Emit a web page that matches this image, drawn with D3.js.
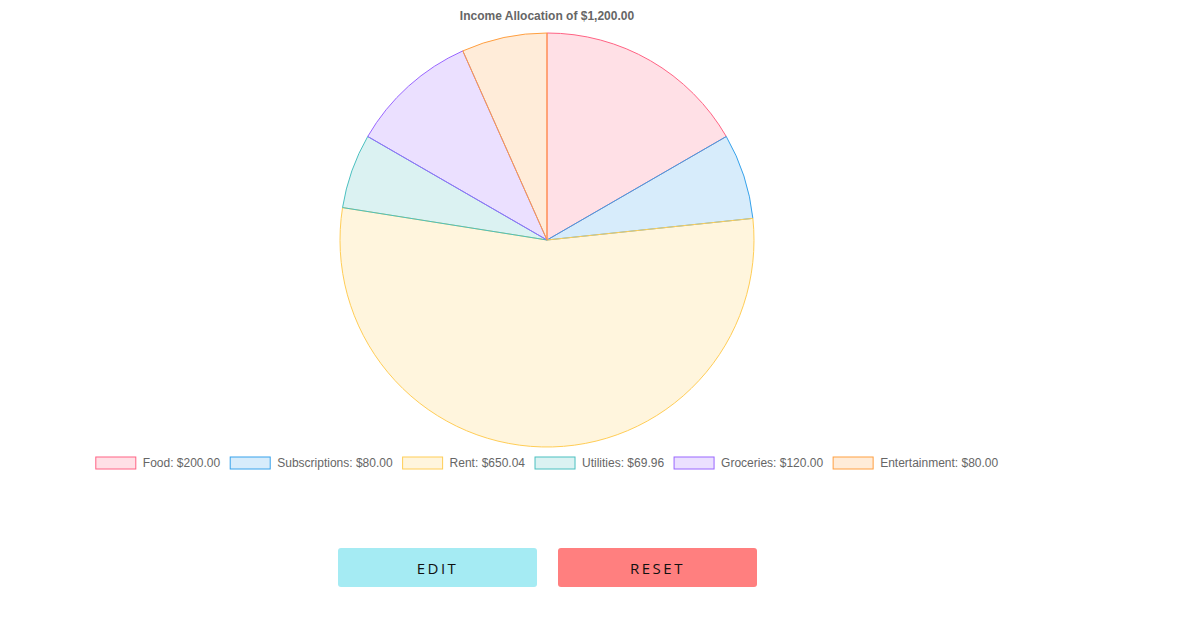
<!DOCTYPE html>
<html><head><meta charset="utf-8">
<script src="https://cdn.jsdelivr.net/npm/d3@7"></script>
<style>
body{margin:0;background:#fff;font-family:"Liberation Sans",Arial,sans-serif}
.btn{position:absolute;top:548px;width:199px;height:39px;border-radius:3px;display:flex;align-items:center;justify-content:center;font-family:"Open Sans",sans-serif;font-size:15px;letter-spacing:2.5px;color:#111}
</style></head>
<body>
<svg id="chart" width="1185" height="530"></svg>
<div class="btn" style="left:338px;background:#a5ebf3">EDIT</div>
<div class="btn" style="left:558px;background:#ff7f7f">RESET</div>
<script>
// chart values
var categories = ["Food", "Subscriptions", "Rent", "Utilities", "Groceries", "Entertainment"];
var amounts = [200.00, 80.00, 650.04, 69.96, 120.00, 80.00];
var rgb = ["255,99,132", "54,162,235", "255,205,86", "75,192,192", "153,102,255", "255,159,64"];

var svg = d3.select("#chart");
var cx = 547, cy = 240, r = 207;
var total = d3.sum(amounts);
var fmt = d3.format("$,.2f");

svg.append("text")
    .attr("x", cx).attr("y", 20)
    .attr("text-anchor", "middle")
    .style("font-size", "12px").style("font-weight", "bold").style("fill", "#666")
    .text("Income Allocation of " + fmt(total));

var data = categories.map((c, i) => ({name: c, value: amounts[i], color: rgb[i]}));
var pie = d3.pie().sort(null).value(d => d.value);
var arc = d3.arc().innerRadius(0).outerRadius(r);

svg.append("g")
    .attr("transform", `translate(${cx},${cy})`)
    .selectAll("path")
    .data(pie(data))
    .join("path")
    .attr("d", arc)
    .style("fill", d => `rgba(${d.data.color},0.2)`)
    .style("stroke", d => `rgb(${d.data.color})`)
    .style("stroke-width", 1);

// legend, centered
var legend = svg.append("g");
var items = legend.selectAll("g").data(data).join("g");
items.append("rect")
    .attr("width", 40).attr("height", 12).attr("y", -6)
    .style("fill", d => `rgba(${d.color},0.2)`)
    .style("stroke", d => `rgb(${d.color})`);
items.append("text")
    .attr("x", 47).attr("dy", "0.35em")
    .style("font-size", "12px").style("fill", "#666")
    .text(d => d.name + ": " + fmt(d.value));
var x = 0;
items.each(function() {
    var w = 47 + d3.select(this).select("text").node().getComputedTextLength();
    d3.select(this).attr("transform", `translate(${x},0)`);
    x += w + 10;
});
legend.attr("transform", `translate(${cx - (x - 10) / 2},463)`);
</script>
</body></html>
